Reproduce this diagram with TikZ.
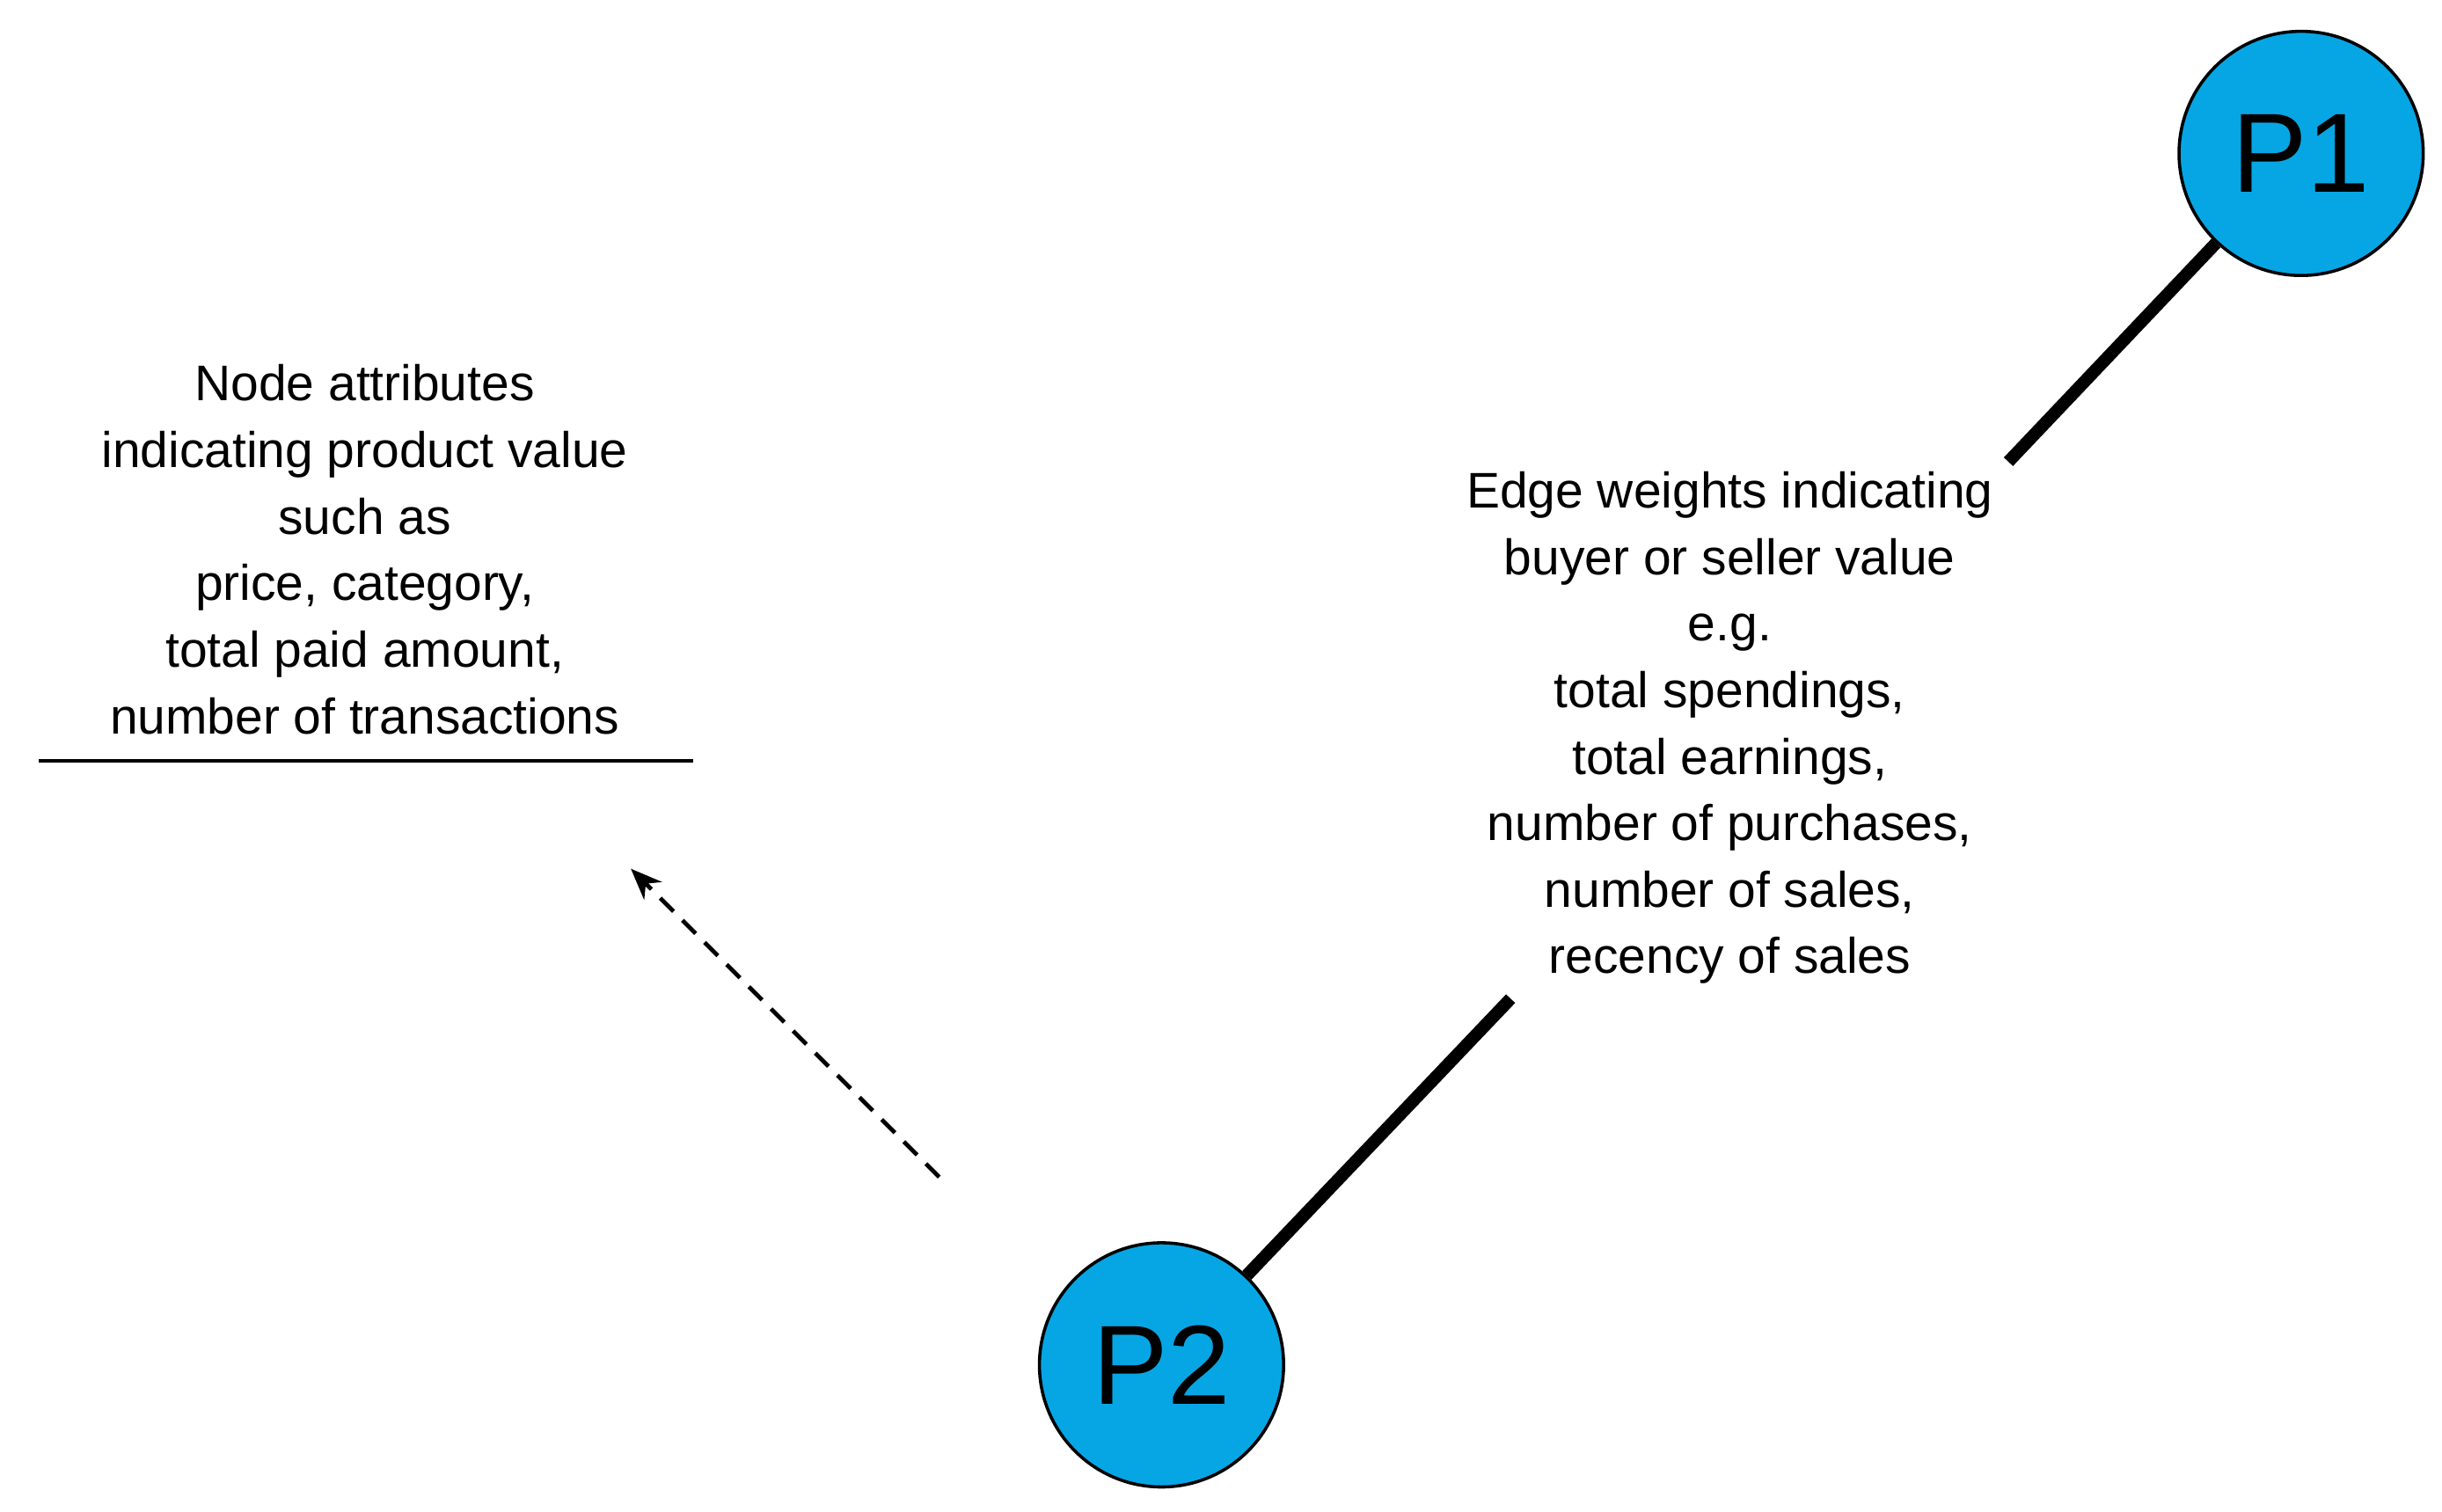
\documentclass[tikz,border=0pt]{standalone}
\usepackage{fontspec}
\setmainfont{Liberation Sans}
\usetikzlibrary{arrows.meta}
\definecolor{nodeblue}{HTML}{06A6E4}
\begin{document}
\begin{tikzpicture}[x=0.5pt,y=-0.5pt,
  pnode/.style={circle,draw=black,line width=1pt,fill=nodeblue,minimum size=78pt,inner sep=0pt,font=\fontsize{36}{40}\selectfont},
  lbl/.style={align=center,font=\fontsize{16}{21.25}\selectfont,inner sep=0pt},
  edge/.style={line width=4pt}]
\useasboundingbox (0,0) rectangle (1560,966);
\node[pnode] (p1) at (1470,98) {P1};
\node[pnode] (p2) at (742,872) {P2};
\node[lbl] (et) at (1105,465) {Edge weights indicating\\buyer or seller value\\e.g.\\total spendings,\\total earnings,\\number of purchases,\\number of sales,\\recency of sales};
\coordinate (e1) at (1283,295);
\coordinate (e2) at (965,638);
\draw[edge] (p1) -- (e1);
\draw[edge] (e2) -- (p2);
\node[lbl] (nt) at (233,351) {Node attributes\\indicating product value\\such as\\price, category,\\total paid amount,\\number of transactions};
\coordinate (u1) at (25,486);
\coordinate (u2) at (443,486);
\draw[line width=1.3pt] (u1) -- (u2);
\coordinate (a1) at (600,752);
\coordinate (a2) at (403,555);
\draw[line width=1.3pt,dash pattern=on 6pt off 4pt,-{Stealth[length=10pt,width=8pt]}] (a1) -- (a2);
\end{tikzpicture}
\end{document}
